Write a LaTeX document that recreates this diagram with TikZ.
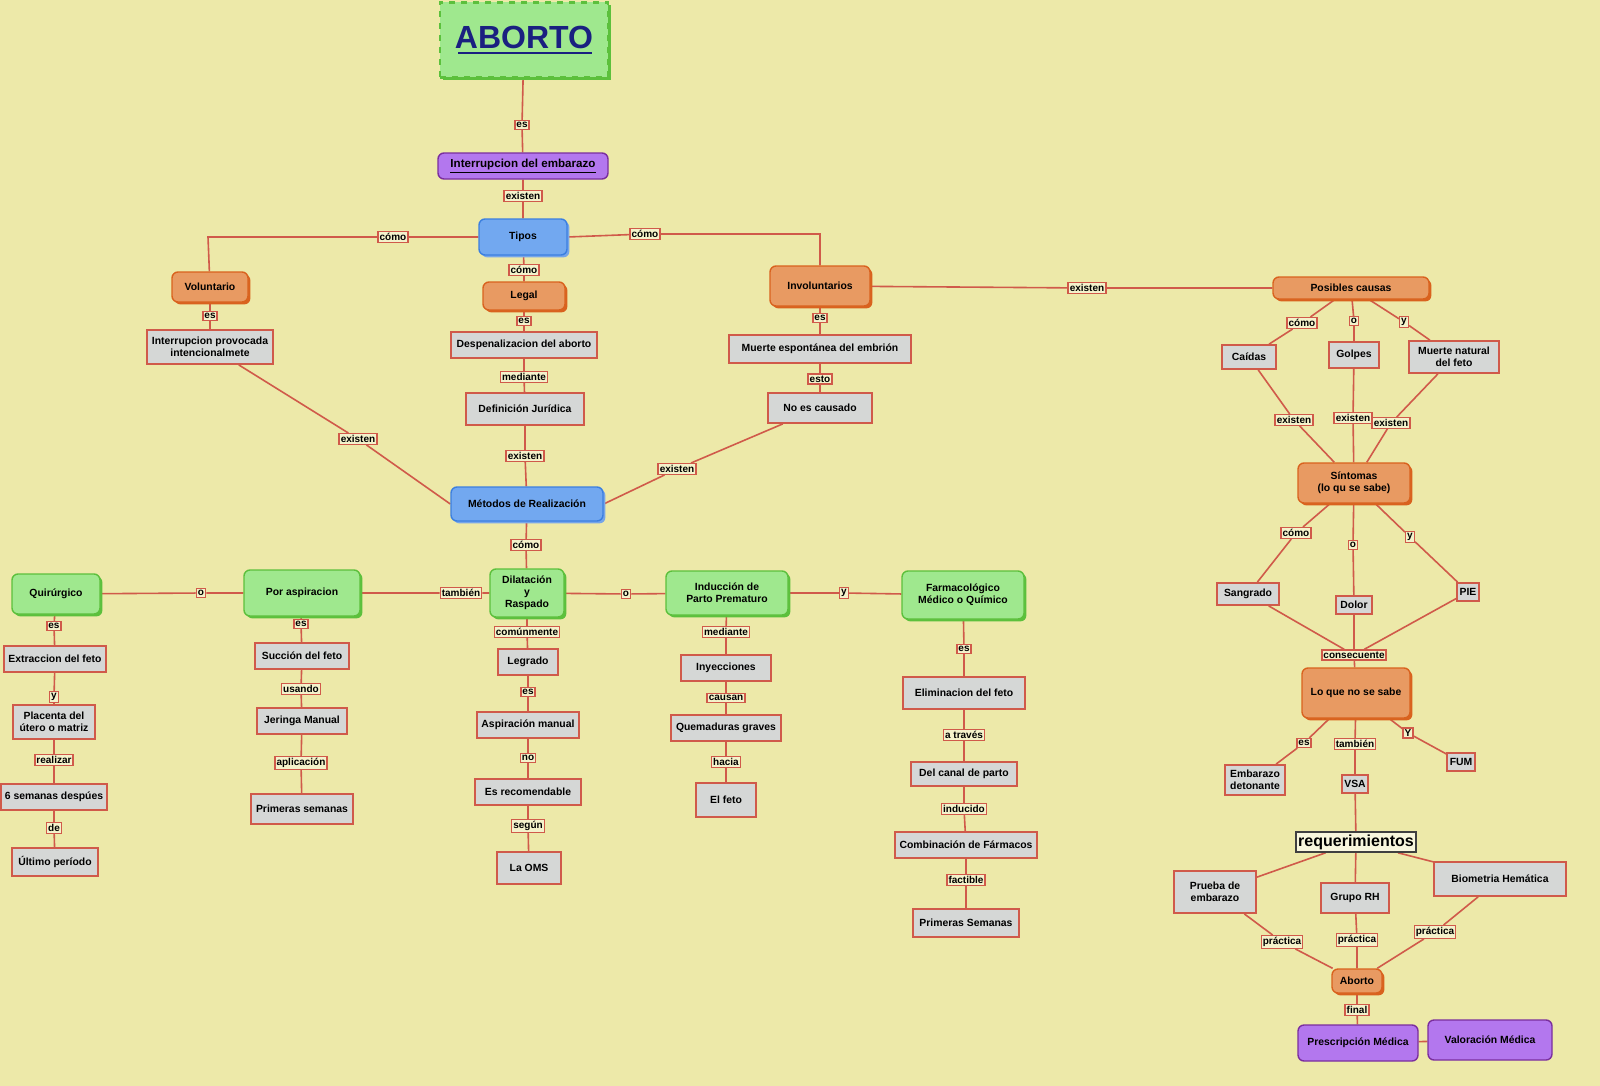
\documentclass[tikz,border=0pt]{standalone}
\usepackage{fontspec}
\setmainfont{Liberation Sans}
\usetikzlibrary{backgrounds,shadows}
\definecolor{bgc}{HTML}{EDE9A9}
\definecolor{ln}{HTML}{D05A4A}
\definecolor{gfill}{HTML}{D5D7D6}
\definecolor{ofill}{HTML}{E89A62}
\definecolor{odraw}{HTML}{D9621E}
\definecolor{grfill}{HTML}{9FE88E}
\definecolor{grdraw}{HTML}{5CC03C}
\definecolor{bfill}{HTML}{72A8F0}
\definecolor{bdraw}{HTML}{3B7FE0}
\definecolor{pfill}{HTML}{B377EE}
\definecolor{pdraw}{HTML}{7A2E9E}
\definecolor{ttl}{HTML}{1A2080}
\tikzset{
 x=0.5pt,y=-0.5pt,
 base/.style={font=\fontsize{5.2}{6}\selectfont\bfseries,align=center,inner sep=1pt},
 gbox/.style={base,fill=gfill,draw=ln,line width=0.9pt},
 obox/.style={base,fill=ofill,draw=odraw,line width=0.7pt,rounded corners=3pt,drop shadow={fill=odraw,shadow xshift=1.2pt,shadow yshift=-1.2pt,opacity=1}},
 grbox/.style={base,fill=grfill,draw=grdraw,line width=0.7pt,rounded corners=3pt,drop shadow={fill=grdraw,shadow xshift=1.2pt,shadow yshift=-1.2pt,opacity=1}},
 bbox/.style={base,fill=bfill,draw=bdraw,line width=0.7pt,rounded corners=3pt,drop shadow={fill=bdraw!70,shadow xshift=1.2pt,shadow yshift=-1.2pt,opacity=1}},
 pbox/.style={base,fill=pfill,draw=pdraw,line width=0.7pt,rounded corners=3pt},
 lbl/.style={base,font=\fontsize{5}{6}\selectfont\bfseries,fill=bgc!60!white,draw=ln,line width=0.7pt,inner sep=0.8pt},
 cn/.style={draw=ln,line width=0.8pt},
}
\newcommand\bx[7]{\node[#6,minimum width=#4*0.5pt,minimum height=#5*0.5pt] (#1) at (#2,#3) {#7};}
\newcommand\lb[4]{\node[lbl] (#1) at (#2,#3) {#4};}
\begin{document}
\begin{tikzpicture}
\useasboundingbox (0,0) rectangle (1600,1086);
\begin{scope}[on background layer]
\fill[bgc] (0,0) rectangle (1600,1086);
\end{scope}
% top
\node[base,fill=grfill,draw=grdraw,line width=1.2pt,dashed,minimum width=84pt,minimum height=37.5pt,drop shadow={fill=grdraw,shadow xshift=1.5pt,shadow yshift=-1.5pt,opacity=1}] (aborto) at (524,40) {};
\node[font=\fontsize{16}{20}\selectfont\bfseries,text=ttl] at (524,37) {ABORTO};
\draw[ttl,line width=0.6pt] (458,53) -- (592,53);
\lb{l1}{522}{125}{es}
\bx{interr}{523}{166}{170}{26}{pbox}{\fontsize{5.8}{7}\selectfont\underline{Interrupcion del embarazo}}
\lb{l2}{523}{196}{existen}
\bx{tipos}{523}{237}{88}{36}{bbox}{Tipos}
\lb{l3}{393}{237}{cómo}
\lb{l4}{645}{234}{cómo}
\lb{l5}{524}{270}{cómo}
\coordinate (cL) at (208,237); \coordinate (cR) at (820,234);
\bx{volun}{210}{287}{76}{30}{obox}{Voluntario}
\bx{legal}{524}{296}{82}{28}{obox}{Legal}
\bx{invol}{820}{286}{100}{40}{obox}{Involuntarios}
\lb{l6}{210}{316}{es}
\bx{intprov}{210}{347}{126}{34}{gbox}{Interrupcion provocada\\intencionalmete}
\lb{l7}{524}{321}{es}
\bx{despen}{524}{345}{146}{26}{gbox}{Despenalizacion del aborto}
\lb{l8}{524}{377}{mediante}
\bx{defj}{525}{409}{118}{32}{gbox}{Definición Jurídica}
\lb{l9}{525}{456}{existen}
\bx{metodos}{527}{504}{152}{34}{bbox}{Métodos de Realización}
\lb{l10}{820}{318}{es}
\bx{muerte}{820}{349}{182}{28}{gbox}{Muerte espontánea del embrión}
\lb{l11}{820}{379}{esto}
\bx{nocaus}{820}{408}{104}{30}{gbox}{No es causado}
\lb{l12}{677}{469}{existen}
\lb{l13}{358}{439}{existen}
\lb{l14}{1087}{288}{existen}
\bx{posib}{1351}{288}{156}{22}{obox}{Posibles causas}
\lb{l15}{1302}{323}{cómo}
\lb{l16}{1354}{321}{o}
\lb{l17}{1404}{322}{y}
\bx{caidas}{1249}{357}{54}{24}{gbox}{Caídas}
\bx{golpes}{1354}{355}{50}{26}{gbox}{Golpes}
\bx{mnat}{1454}{357}{90}{32}{gbox}{Muerte natural\\del feto}
\lb{l18}{1294}{420}{existen}
\lb{l19}{1353}{418}{existen}
\lb{l20}{1391}{423}{existen}
\bx{sint}{1354}{483}{112}{40}{obox}{Síntomas\\(lo qu se sabe)}
\lb{l21}{1296}{533}{cómo}
\lb{l22}{1353}{545}{o}
\lb{l23}{1410}{537}{y}
\bx{sangr}{1248}{594}{62}{22}{gbox}{Sangrado}
\bx{dolor}{1354}{605}{36}{18}{gbox}{Dolor}
\bx{pie}{1468}{592}{22}{18}{gbox}{PIE}
\lb{l24}{1354}{655}{consecuente}
\bx{loque}{1356}{693}{108}{50}{obox}{Lo que no se sabe}
\lb{l25}{1304}{743}{es}
\lb{l26}{1355}{744}{también}
\lb{l27}{1408}{733}{Y}
\bx{embdet}{1255}{780}{60}{30}{gbox}{Embarazo\\detonante}
\bx{vsa}{1355}{784}{26}{18}{gbox}{VSA}
\bx{fum}{1461}{762}{28}{18}{gbox}{FUM}
\node[base,font=\fontsize{8}{10}\selectfont\bfseries,fill=bgc!40!white,draw=black!75,line width=0.8pt,minimum width=57pt,minimum height=10pt,inner sep=1pt] (req) at (1356,842) {requerimientos};
\bx{prueba}{1215}{892}{82}{42}{gbox}{Prueba de\\embarazo}
\bx{grupo}{1355}{898}{68}{30}{gbox}{Grupo RH}
\bx{biom}{1500}{879}{132}{34}{gbox}{Biometria Hemática}
\lb{l28}{1282}{942}{práctica}
\lb{l29}{1357}{940}{práctica}
\lb{l30}{1435}{932}{práctica}
\bx{ab2}{1357}{981}{50}{24}{obox}{Aborto}
\lb{l31}{1357}{1010}{final}
\bx{presc}{1358}{1043}{120}{36}{pbox}{Prescripción Médica}
\bx{valor}{1490}{1040}{124}{40}{pbox}{Valoración Médica}
% bottom row
\lb{l32}{526}{545}{cómo}
\bx{quir}{56}{594}{88}{40}{grbox}{Quirúrgico}
\lb{l33}{201}{593}{o}
\bx{asp}{302}{593}{116}{46}{grbox}{Por aspiracion}
\lb{l34}{461}{593}{también}
\bx{dil}{527}{593}{74}{48}{grbox}{Dilatación\\y\\Raspado}
\lb{l35}{626}{594}{o}
\bx{ind}{727}{593}{122}{44}{grbox}{Inducción de\\Parto Prematuro}
\lb{l36}{844}{593}{y}
\bx{farm}{963}{595}{122}{48}{grbox}{Farmacológico\\Médico o Químico}
% col 1
\lb{q1}{54}{626}{es}
\bx{extr}{55}{659}{102}{26}{gbox}{Extraccion del feto}
\lb{q2}{54}{697}{y}
\bx{plac}{54}{722}{82}{34}{gbox}{Placenta del\\útero o matriz}
\lb{q3}{54}{760}{realizar}
\bx{seis}{54}{797}{106}{26}{gbox}{6 semanas despúes}
\lb{q4}{54}{828}{de}
\bx{ult}{55}{862}{86}{28}{gbox}{Último período}
% col 2
\lb{a1}{301}{624}{es}
\bx{succ}{302}{656}{94}{26}{gbox}{Succión del feto}
\lb{a2}{301}{689}{usando}
\bx{jer}{302}{721}{90}{26}{gbox}{Jeringa Manual}
\lb{a3}{301}{763}{aplicación}
\bx{prim}{302}{809}{102}{30}{gbox}{Primeras semanas}
% col 3
\lb{d1}{527}{632}{comúnmente}
\bx{legr}{528}{662}{60}{26}{gbox}{Legrado}
\lb{d2}{528}{692}{es}
\bx{aspm}{528}{725}{102}{26}{gbox}{Aspiración manual}
\lb{d3}{528}{758}{no}
\bx{esrec}{528}{792}{106}{26}{gbox}{Es recomendable}
\lb{d4}{528}{826}{según}
\bx{oms}{529}{868}{64}{32}{gbox}{La OMS}
% col 4
\lb{i1}{726}{632}{mediante}
\bx{iny}{726}{668}{90}{26}{gbox}{Inyecciones}
\lb{i2}{726}{698}{causan}
\bx{quem}{726}{728}{110}{26}{gbox}{Quemaduras graves}
\lb{i3}{726}{762}{hacia}
\bx{elfeto}{726}{800}{60}{34}{gbox}{El feto}
% col 5
\lb{f1}{964}{649}{es}
\bx{elim}{964}{693}{122}{32}{gbox}{Eliminacion del feto}
\lb{f2}{964}{735}{a través}
\bx{canal}{964}{774}{106}{24}{gbox}{Del canal de parto}
\lb{f3}{964}{809}{inducido}
\bx{comb}{966}{845}{142}{26}{gbox}{Combinación de Fármacos}
\lb{f4}{966}{880}{factible}
\bx{primS}{966}{923}{106}{28}{gbox}{Primeras Semanas}
\begin{scope}[on background layer]
\draw[cn] (aborto)--(l1)--(interr)--(l2)--(tipos);
\draw[cn] (tipos.west)--(l3)--(cL)--(volun);
\draw[cn] (tipos.east)--(l4)--(cR)--(invol);
\draw[cn] (tipos)--(l5)--(legal);
\draw[cn] (volun)--(l6)--(intprov);
\draw[cn] (legal)--(l7)--(despen)--(l8)--(defj)--(l9)--(metodos);
\draw[cn] (invol)--(l10)--(muerte)--(l11)--(nocaus);
\draw[cn] (nocaus)--(l12)--(metodos.east);
\draw[cn] (intprov)--(l13)--(metodos.west);
\draw[cn] (invol)--(l14)--(posib);
\draw[cn] (posib)--(l15)--(caidas);
\draw[cn] (posib)--(l16)--(golpes);
\draw[cn] (posib)--(l17)--(mnat);
\draw[cn] (caidas)--(l18)--(sint);
\draw[cn] (golpes)--(l19)--(sint);
\draw[cn] (mnat)--(l20)--(sint);
\draw[cn] (sint)--(l21)--(sangr);
\draw[cn] (sint)--(l22)--(dolor);
\draw[cn] (sint)--(l23)--(pie);
\draw[cn] (sangr)--(l24); \draw[cn] (dolor)--(l24); \draw[cn] (pie)--(l24);
\draw[cn] (l24)--(loque);
\draw[cn] (loque)--(l25)--(embdet);
\draw[cn] (loque)--(l26)--(vsa)--(req);
\draw[cn] (loque)--(l27)--(fum);
\draw[cn] (req)--(prueba); \draw[cn] (req)--(grupo); \draw[cn] (req)--(biom);
\draw[cn] (prueba)--(l28)--(ab2);
\draw[cn] (grupo)--(l29)--(ab2);
\draw[cn] (biom)--(l30)--(ab2);
\draw[cn] (ab2)--(l31)--(presc)--(valor);
\draw[cn] (metodos)--(l32)--(dil);
\draw[cn] (quir)--(l33)--(asp)--(l34)--(dil)--(l35)--(ind)--(l36)--(farm);
\draw[cn] (quir)--(q1)--(extr)--(q2)--(plac)--(q3)--(seis)--(q4)--(ult);
\draw[cn] (asp)--(a1)--(succ)--(a2)--(jer)--(a3)--(prim);
\draw[cn] (dil)--(d1)--(legr)--(d2)--(aspm)--(d3)--(esrec)--(d4)--(oms);
\draw[cn] (ind)--(i1)--(iny)--(i2)--(quem)--(i3)--(elfeto);
\draw[cn] (farm)--(f1)--(elim)--(f2)--(canal)--(f3)--(comb)--(f4)--(primS);
\end{scope}
\end{tikzpicture}
\end{document}
